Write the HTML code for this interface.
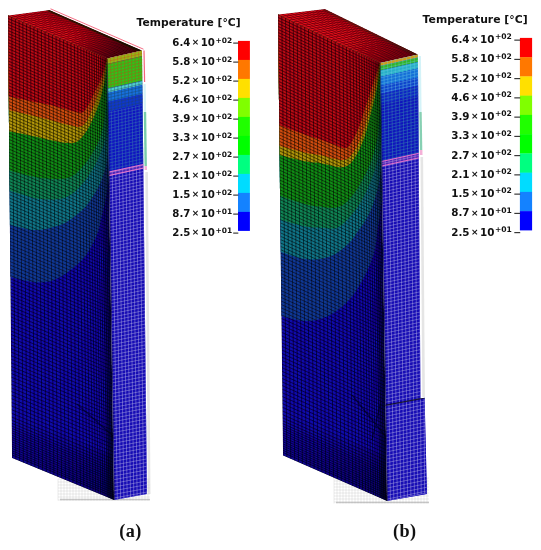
<!DOCTYPE html>
<html><head><meta charset="utf-8"><title>Temperature distribution</title>
<style>
html,body{margin:0;padding:0;background:#fff;}
body{width:541px;height:550px;overflow:hidden;}
svg{display:block;}
.lb{font-family:"DejaVu Sans","Liberation Sans",sans-serif;font-weight:bold;fill:#111;}
.tt{font-family:"DejaVu Sans","Liberation Sans",sans-serif;font-weight:bold;font-size:10.6px;fill:#111;}
.cap{font-family:"Liberation Serif",serif;font-weight:bold;font-size:18.2px;fill:#111;text-anchor:middle;letter-spacing:0.4px;}
</style></head><body>
<svg width="541" height="550" viewBox="0 0 541 550">
<rect width="541" height="550" fill="#fff"/>
<defs>
<filter id="soft" x="-2%" y="-2%" width="104%" height="104%"><feGaussianBlur stdDeviation="0.45"/></filter>
<linearGradient id="edgeShade" x1="0" y1="0" x2="1" y2="0"><stop offset="0" stop-color="#000" stop-opacity="0"/><stop offset="1" stop-color="#000" stop-opacity="0.6"/></linearGradient>
<linearGradient id="botShade" x1="0" y1="0" x2="0" y2="1"><stop offset="0" stop-color="#000" stop-opacity="0"/><stop offset="1" stop-color="#000" stop-opacity="0.3"/></linearGradient>
<linearGradient id="topShade" x1="0" y1="0" x2="1" y2="0.4"><stop offset="0" stop-color="#000" stop-opacity="0"/><stop offset="0.6" stop-color="#000" stop-opacity="0"/><stop offset="1" stop-color="#000" stop-opacity="0.45"/></linearGradient>
</defs>
<g filter="url(#soft)">
<path d="M58 479L58 500.5M61 479L61 500.5M64 479L64 500.5M67 479L67 500.5M70 479L70 500.5M73 479L73 500.5M76 479L76 500.5M79 479L79 500.5M82 479L82 500.5M85 479L85 500.5M88 479L88 500.5M91 479L91 500.5M94 479L94 500.5M97 479L97 500.5M100 479L100 500.5M103 479L103 500.5M106 479L106 500.5M109 479L109 500.5M112 479L112 500.5M115 479L115 500.5M118 479L118 500.5M121 479L121 500.5M124 479L124 500.5M127 479L127 500.5M130 479L130 500.5M133 479L133 500.5M136 479L136 500.5M139 479L139 500.5M142 479L142 500.5M145 479L145 500.5M148 479L148 500.5M58 479L150 479M58 482L150 482M58 485L150 485M58 488L150 488M58 491L150 491M58 494L150 494M58 497L150 497M58 500L150 500" stroke="#b0b0b0" stroke-opacity="0.4" stroke-width="0.6" fill="none"/>
<path d="M60 499.5L150 499.5" stroke="#a8a8a8" stroke-opacity="0.6" stroke-width="1.4" fill="none"/>
<defs><clipPath id="cla"><polygon points="8,15.5 107,58.5 114,500 12,458"/></clipPath>
<clipPath id="cra"><polygon points="107,58.5 142,50.5 147,494 114,500"/></clipPath>
<clipPath id="cta"><polygon points="8,15.5 49.5,10 142,50.5 107,58.5"/></clipPath></defs>
<g clip-path="url(#cla)">
<polygon points="8,15.5 107,58.5 114,500 12,458" fill="#0e08aa"/>
<polygon points="3,5.5 119,48.5 113,60 113,72.6 113.1,90.9 113.2,112.1 113.2,133.4 113.2,152 113,165 112.7,171.8 112.2,174.4 111.6,174.2 111,172.9 110.5,171.6 110,172 109.6,173.8 109.3,175.8 109,178 108.7,180.3 108.4,182.6 108,185 107.6,187.4 107.2,189.9 106.8,192.4 106.4,194.9 106,197.5 105.5,200 105,202.5 104.4,204.9 103.8,207.4 103.2,209.9 102.6,212.4 102,215 101.4,217.7 100.8,220.6 100.2,223.5 99.6,226.4 98.8,229.3 98,232 97,234.6 96,237.2 94.8,239.8 93.6,242.2 92.3,244.6 91,247 89.7,249.3 88.4,251.5 87,253.6 85.6,255.7 83.9,257.9 82,260 79.8,262.2 77.3,264.5 74.7,266.8 71.9,269 69.2,271.1 66.5,273 63.9,274.7 61.4,276.3 58.9,277.8 56.3,279 53.7,280.1 51,281 48.3,281.6 45.5,282.1 42.8,282.3 39.8,282.4 36.7,282.3 33.3,282 29.2,281.4 24.5,280.4 19.5,279.3 14.8,278.2 10.8,277.2 8,276.5 3,276.5" fill="#103896"/>
<polygon points="3,5.5 119,48.5 112,60 112,68.3 112.1,80.4 112.1,94.4 112.1,108.5 112.1,121 112,130 111.8,135.1 111.5,137.7 111.2,138.6 110.8,138.7 110.4,138.9 110,140 109.6,142 109.2,144.2 108.8,146.4 108.3,148.7 107.9,150.9 107.6,153 107.3,155 107.2,157 107,158.9 106.8,160.8 106.6,162.7 106.3,164.6 105.9,166.5 105.4,168.5 104.9,170.4 104.3,172.3 103.7,174.3 103,176.2 102.3,178.1 101.5,180 100.7,182 99.9,183.9 98.9,185.9 97.9,187.9 96.7,190 95.5,192.2 94.1,194.5 92.7,196.7 91.3,198.9 90,200.8 88.8,202.5 87.7,204 86.6,205.5 85.5,206.9 84,208.3 82.3,210 80.1,211.9 77.6,214 74.9,216.2 72,218.4 69.2,220.3 66.5,222 63.9,223.4 61.4,224.5 58.9,225.5 56.3,226.3 53.7,227 51,227.7 48.3,228.4 45.5,229 42.8,229.6 39.8,229.9 36.7,230.1 33.3,230 29.2,229.5 24.5,228.5 19.5,227.3 14.8,226.1 10.8,225.1 8,224.4 3,224.4" fill="#0e7488"/>
<polygon points="3,5.5 119,48.5 110,60 110,65.8 110.1,74.3 110.1,84.1 110.1,94.1 110.1,103.1 110,110 109.8,114.5 109.5,117.6 109.2,119.7 108.8,121.3 108.4,122.9 108,125 107.6,127.6 107.1,130.2 106.6,132.8 106.1,135.3 105.5,137.8 105,140 104.5,142 104,143.7 103.5,145.4 102.9,146.9 102.4,148.6 101.7,150.3 101,152.2 100.2,154.1 99.4,156.1 98.5,158.1 97.6,160 96.6,162 95.6,164 94.6,165.9 93.5,167.9 92.3,169.8 91.2,171.7 90,173.6 88.8,175.4 87.6,177.2 86.3,179 85,180.7 83.7,182.4 82.3,184 80.9,185.6 79.4,187.2 78,188.8 76.4,190.3 74.9,191.7 73.3,193 71.7,194.1 70.1,195.2 68.4,196.1 66.7,196.9 64.9,197.6 63,198.2 61,198.7 59,199 56.9,199.3 54.7,199.4 52.4,199.5 50,199.5 47.5,199.4 45,199.3 42.4,199.2 39.6,198.9 36.6,198.4 33.3,197.7 29.3,196.7 24.6,195.3 19.6,193.7 14.9,192.2 10.9,190.9 8,190 3,190" fill="#0e8454"/>
<polygon points="3,5.5 119,48.5 107,58.5 107,60.8 107,63.9 107.1,67.7 107.1,71.8 107.1,76 107,80 106.9,84 106.8,88.3 106.7,92.6 106.5,96.9 106.3,101.1 106,105 105.7,108.7 105.3,112.2 105,115.6 104.5,118.9 104,122 103.5,125 102.9,127.8 102.2,130.5 101.5,133.1 100.8,135.5 100,137.8 99.2,140 98.4,142 97.6,143.8 96.7,145.4 95.9,147 95,148.6 94,150.3 93,152 92,153.8 90.9,155.6 89.8,157.3 88.7,159 87.5,160.7 86.3,162.3 85,163.9 83.7,165.5 82.4,167 81.1,168.5 79.8,169.8 78.5,171.1 77.3,172.3 76,173.4 74.7,174.4 73.4,175.4 72,176.2 70.6,176.9 69.2,177.4 67.8,177.9 66.3,178.3 64.7,178.6 63,178.8 61.1,179 59.1,179.1 57,179.1 54.8,179.1 52.4,179 50,178.8 47.5,178.6 45,178.4 42.4,178.1 39.6,177.7 36.6,177.2 33.3,176.6 29.3,175.7 24.6,174.5 19.6,173.2 14.9,171.9 10.9,170.8 8,170 3,170" fill="#108c14"/>
<polygon points="3,5.5 119,48.5 107,58.5 106.9,59.5 106.8,60.9 106.7,62.5 106.6,64.3 106.5,66.2 106.3,68 106.1,69.8 106,71.7 105.8,73.7 105.6,75.8 105.3,77.9 105,80 104.6,82.3 104,84.7 103.4,87.1 102.8,89.6 102.2,91.8 101.7,93.9 101.3,95.7 100.9,97.2 100.5,98.7 100.1,100.1 99.7,101.5 99.2,103 98.6,104.7 98,106.4 97.3,108.2 96.7,109.9 96,111.6 95.3,113.3 94.7,114.9 94,116.4 93.4,117.9 92.8,119.3 92.1,120.8 91.4,122.3 90.6,123.8 89.8,125.4 89,126.9 88.1,128.4 87.2,129.9 86.2,131.4 85.2,132.9 84.2,134.3 83.1,135.8 82,137.2 80.9,138.4 79.8,139.5 78.8,140.4 77.8,141.2 76.8,141.8 75.8,142.3 74.6,142.7 73.3,143 71.8,143.2 70.2,143.2 68.6,143.1 66.8,143 64.9,142.7 63,142.5 61.1,142.2 59.1,141.9 57.1,141.5 55,141.1 52.6,140.6 50,140 47.1,139.4 43.9,138.6 40.6,137.9 37.1,137.1 33.5,136.3 30,135.5 26.2,134.7 22,133.8 17.8,133 13.8,132.2 10.4,131.5 8,131 3,131" fill="#b09408"/>
<polygon points="3,5.5 119,48.5 107,58.5 106.8,59.5 106.6,60.9 106.4,62.5 106.1,64.3 105.8,66.2 105.5,68 105.2,69.9 104.8,71.9 104.4,74 103.9,76.1 103.5,78.1 103,80 102.5,81.8 101.9,83.6 101.2,85.3 100.6,87 100,88.6 99.5,90 99.1,91.3 98.7,92.3 98.3,93.3 98,94.3 97.6,95.3 97.2,96.5 96.7,97.9 96.2,99.3 95.7,100.8 95.2,102.4 94.6,104 94,105.5 93.4,107 92.8,108.5 92.1,110 91.4,111.6 90.7,113.1 90,114.6 89.2,116.2 88.4,117.8 87.6,119.5 86.7,121 85.9,122.4 85,123.6 84.2,124.5 83.3,125.2 82.5,125.8 81.6,126.2 80.7,126.6 79.8,126.8 78.8,126.9 77.9,126.9 76.9,126.8 75.8,126.5 74.6,126.3 73.3,126 71.8,125.7 70.2,125.3 68.6,124.9 66.8,124.5 64.9,124 63,123.5 61.1,123 59.1,122.5 57.1,121.9 55,121.3 52.6,120.7 50,120 47.1,119.3 43.9,118.4 40.6,117.6 37.1,116.7 33.5,115.9 30,115 26.2,114.1 22,113.1 17.8,112.2 13.8,111.3 10.4,110.5 8,110 3,110" fill="#d04c0c"/>
<polygon points="3,5.5 119,48.5 107,58.5 106.7,59.5 106.4,60.9 106,62.5 105.5,64.3 105,66.2 104.5,68 103.9,69.9 103.3,71.9 102.6,74 101.9,76.1 101.2,78.1 100.5,80 99.8,81.7 99,83.4 98.3,84.9 97.5,86.4 96.8,87.9 96,89.5 95.2,91.1 94.4,92.7 93.7,94.4 92.9,96 92.1,97.5 91.4,99 90.7,100.4 90.1,101.8 89.5,103.1 88.9,104.4 88.2,105.6 87.5,106.8 86.7,108 85.9,109.1 85.1,110.2 84.2,111.2 83.3,112 82.3,112.6 81.4,112.9 80.5,113 79.6,112.9 78.6,112.7 77.4,112.3 75.9,112 74.1,111.6 72.1,111 69.9,110.4 67.5,109.8 65.2,109.1 63,108.5 60.9,107.9 58.9,107.4 56.9,106.8 54.9,106.2 52.6,105.6 50,105 47.1,104.4 43.9,103.7 40.6,103.1 37.1,102.4 33.5,101.7 30,101 26.2,100.2 22,99.3 17.8,98.4 13.8,97.5 10.4,96.8 8,96.3 3,96.3" fill="#b60812"/>
<path d="M8 15.5L12 458M11.7 17.1L15.8 459.6M15.4 18.7L19.6 461.1M19.1 20.3L23.4 462.7M22.8 21.9L27.2 464.3M26.5 23.5L31.1 465.8M30.2 25.1L34.9 467.4M33.9 26.7L38.7 469M37.6 28.4L42.5 470.6M41.3 30L46.3 472.1M45 31.6L50.1 473.7M48.7 33.2L53.9 475.3M52.4 34.8L57.7 476.8M56.1 36.4L61.6 478.4M59.8 38L65.4 480M63.5 39.6L69.2 481.5M67.2 41.2L73 483.1M70.9 42.8L76.8 484.7M74.4 44.3L80.4 486.2M77.7 45.8L83.8 487.6M80.8 47.1L87.1 488.9M83.8 48.4L90.1 490.2M86.6 49.6L93 491.3M89.2 50.8L95.7 492.5M91.7 51.9L98.2 493.5M94.1 52.9L100.7 494.5M96.3 53.8L103 495.5M98.4 54.8L105.1 496.3M100.4 55.6L107.1 497.2M102.2 56.4L109.1 498M104 57.2L110.9 498.7M105.7 57.9L112.6 499.4M107 58.5L114 500M8 15.5L107 58.5M8 18.5L107 61.5M8.1 21.5L107.1 64.5M8.1 24.5L107.1 67.5M8.1 27.5L107.2 70.5M8.1 30.6L107.2 73.5M8.2 33.6L107.3 76.6M8.2 36.6L107.3 79.6M8.2 39.7L107.4 82.6M8.2 42.7L107.4 85.6M8.3 45.8L107.5 88.7M8.3 48.8L107.5 91.7M8.3 51.9L107.6 94.8M8.4 54.9L107.6 97.8M8.4 58L107.7 100.9M8.4 61.1L107.7 104M8.4 64.1L107.8 107M8.5 67.2L107.8 110.1M8.5 70.3L107.9 113.2M8.5 73.4L107.9 116.3M8.6 76.5L108 119.4M8.6 79.6L108 122.5M8.6 82.7L108.1 125.6M8.6 85.8L108.1 128.7M8.7 89L108.2 131.8M8.7 92.1L108.2 134.9M8.7 95.2L108.3 138M8.7 98.3L108.3 141.2M8.8 101.5L108.4 144.3M8.8 104.6L108.4 147.4M8.8 107.8L108.5 150.6M8.9 110.9L108.5 153.7M8.9 114.1L108.6 156.9M8.9 117.2L108.6 160M8.9 120.4L108.7 163.2M9 123.6L108.7 166.3M9 126.8L108.8 169.5M9 130L108.8 172.7M9.1 133.1L108.9 175.9M9.1 136.3L108.9 179.1M9.1 139.5L109 182.3M9.2 142.8L109 185.5M9.2 146L109.1 188.7M9.2 149.2L109.1 191.9M9.2 152.4L109.2 195.1M9.3 155.6L109.2 198.3M9.3 158.9L109.3 201.5M9.3 162.1L109.3 204.8M9.4 165.3L109.4 208M9.4 168.6L109.4 211.2M9.4 171.8L109.5 214.5M9.4 175.1L109.5 217.7M9.5 178.4L109.6 221M9.5 181.6L109.6 224.3M9.5 184.9L109.7 227.5M9.6 188.2L109.7 230.8M9.6 191.5L109.8 234.1M9.6 194.8L109.8 237.4M9.7 198.1L109.9 240.6M9.7 201.4L109.9 243.9M9.7 204.7L110 247.2M9.7 208L110 250.5M9.8 211.3L110.1 253.9M9.8 214.6L110.1 257.2M9.8 218L110.2 260.5M9.9 221.3L110.3 263.8M9.9 224.6L110.3 267.2M9.9 228L110.4 270.5M10 231.3L110.4 273.8M10 234.7L110.5 277.2M10 238L110.5 280.5M10 241.4L110.6 283.9M10.1 244.8L110.6 287.3M10.1 248.2L110.7 290.6M10.1 251.5L110.7 294M10.2 254.9L110.8 297.4M10.2 258.3L110.8 300.8M10.2 261.7L110.9 304.2M10.3 265.1L110.9 307.6M10.3 268.5L111 311M10.3 272L111.1 314.4M10.3 275.4L111.1 317.8M10.4 278.8L111.2 321.2M10.4 282.2L111.2 324.6M10.4 285.7L111.3 328.1M10.5 289.1L111.3 331.5M10.5 292.6L111.4 335M10.5 296L111.4 338.4M10.6 299.5L111.5 341.9M10.6 303L111.5 345.3M10.6 306.4L111.6 348.8M10.7 309.9L111.7 352.2M10.7 313.4L111.7 355.7M10.7 316.9L111.8 359.2M10.8 320.4L111.8 362.7M10.8 323.9L111.9 366.2M10.8 327.4L111.9 369.7M10.9 330.9L112 373.2M10.9 334.4L112 376.7M10.9 338L112.1 380.2M10.9 341.5L112.2 383.7M11 345L112.2 387.3M11 348.6L112.3 390.8M11 352.1L112.3 394.3M11.1 355.7L112.4 397.9M11.1 359.2L112.4 401.4M11.1 362.8L112.5 405M11.2 366.4L112.6 408.6M11.2 369.9L112.6 412.1M11.2 373.5L112.7 415.7M11.3 377.1L112.7 419.3M11.3 380.7L112.8 422.9M11.3 384.3L112.8 426.5M11.4 387.9L112.9 430.1M11.4 391.5L112.9 433.7M11.4 395.1L113 437.3M11.5 398.8L113.1 440.9M11.5 402.4L113.1 444.5M11.5 406L113.2 448.1M11.6 409.7L113.2 451.8M11.6 413.3L113.3 455.4M11.6 417L113.4 459.1M11.7 420.3L113.4 462.4M11.7 423.3L113.5 465.4M11.7 426L113.5 468M11.7 428.4L113.5 470.4M11.8 430.7L113.6 472.7M11.8 432.9L113.6 475M11.8 435.2L113.6 477.3M11.8 437.5L113.7 479.5M11.8 439.7L113.7 481.7M11.9 441.9L113.7 484M11.9 444.1L113.8 486.2M11.9 446.3L113.8 488.3M11.9 448.5L113.8 490.5M11.9 450.7L113.9 492.7M12 452.8L113.9 494.8M12 454.9L114 496.9M12 458L114 500" stroke="#000" stroke-opacity="0.6" stroke-width="0.9" fill="none"/>
<path d="M77 404L113 436" stroke="#000" stroke-opacity="0.45" stroke-width="1.2" fill="none"/>
<polygon points="100.1,55.5 107,58.5 114,500 106.9,497.1" fill="url(#edgeShade)"/>
<polygon points="11.6,413.8 113.3,455.9 114,500 12,458" fill="url(#botShade)"/>
</g>
<g clip-path="url(#cta)">
<polygon points="8,15.5 49.5,10 142,50.5 107,58.5" fill="#ea0a1a"/>
<path d="M8 15.5L107 58.5M11.7 15L110.2 57.8M15.5 14.5L113.3 57.1M19.2 14L116.5 56.3M22.8 13.5L119.4 55.7M26.1 13.1L122.3 55M29.2 12.7L124.9 54.4M32.1 12.3L127.4 53.8M34.9 11.9L129.7 53.3M37.5 11.6L131.8 52.8M39.9 11.3L133.9 52.4M42.1 11L135.8 51.9M44.3 10.7L137.6 51.5M46.2 10.4L139.3 51.1M48.1 10.2L140.8 50.8M49.5 10L142 50.5M8 15.5L49.5 10M11.7 17.1L53 11.5M15.4 18.7L56.4 13M19.1 20.3L59.9 14.5M22.8 21.9L63.3 16.1M26.5 23.5L66.8 17.6M30.2 25.1L70.2 19.1M33.9 26.7L73.7 20.6M37.6 28.4L77.2 22.1M41.3 30L80.6 23.6M45 31.6L84.1 25.1M48.7 33.2L87.5 26.7M52.4 34.8L91 28.2M56.1 36.4L94.4 29.7M59.8 38L97.9 31.2M63.5 39.6L101.4 32.7M67.2 41.2L104.8 34.2M70.9 42.8L108.3 35.7M74.4 44.3L111.5 37.2M77.7 45.8L114.6 38.5M80.8 47.1L117.6 39.8M83.8 48.4L120.3 41M86.6 49.6L122.9 42.1M89.2 50.8L125.4 43.2M91.7 51.9L127.7 44.2M94.1 52.9L129.9 45.2M96.3 53.8L132 46.1M98.4 54.8L133.9 47M100.4 55.6L135.8 47.8M102.2 56.4L137.5 48.5M104 57.2L139.2 49.3M105.7 57.9L140.7 49.9M107 58.5L142 50.5" stroke="#000" stroke-opacity="0.42" stroke-width="0.85" fill="none"/>
<polygon points="8,15.5 49.5,10 142,50.5 107,58.5" fill="url(#topShade)" fill-opacity="1.0"/>
<polygon points="49.5,10 142,50.5 138.5,51.3 46.2,10.4" fill="#0c1800" fill-opacity="0.7"/>
</g>
<g clip-path="url(#cra)">
<polygon points="107,58.5 142,50.5 147,494 114,500" fill="#1c14c8"/>
<polygon points="106.9,50 152.4,39.5 152.6,53.6 107.1,64" fill="#94b418"/>
<polygon points="107.1,64 152.6,53.6 152.8,78.4 107.5,88.6" fill="#30c01a"/>
<polygon points="107.5,88.6 152.8,78.4 152.8,82.8 107.5,93" fill="#50d0d0"/>
<polygon points="107.5,93 152.8,82.8 152.9,91.9 107.7,102" fill="#1470dc"/>
<polygon points="107.7,102 152.9,91.9 153,101.9 107.8,112" fill="#1038cc"/>
<polygon points="107.8,112 153,101.9 153.6,162.3 108.8,172" fill="#1014c0"/>
<polygon points="108.8,172 153.6,162.3 157.1,512.3 114.3,520" fill="#1408b4"/>
<path d="M106.9 50L107.5 88.6M110.4 49.2L111 87.8M113.9 48.4L114.4 87M117.4 47.6L117.9 86.2M120.9 46.8L121.4 85.5M124.4 46L124.9 84.7M127.9 45.2L128.4 83.9M131.4 44.4L131.9 83.1M134.9 43.6L135.4 82.3M138.4 42.8L138.9 81.5M141.9 42L142.3 80.7M145.4 41.2L145.8 79.9M148.9 40.4L149.3 79.2M152.4 39.5L152.8 78.4M107 58.5L152.5 48.1M107 61.5L152.5 51.1M107.1 64.5L152.6 54.1M107.1 67.5L152.6 57.2M107.2 70.5L152.6 60.2M107.2 73.5L152.6 63.2M107.3 76.6L152.7 66.3M107.3 79.6L152.7 69.3M107.4 82.6L152.7 72.3M107.4 85.6L152.8 75.4" stroke="#e02c10" stroke-opacity="0.5" stroke-width="0.6" fill="none"/>
<path d="M107.5 88.6L107.8 112M111 87.8L111.3 111.2M114.4 87L114.8 110.4M117.9 86.2L118.3 109.7M121.4 85.5L121.8 108.9M124.9 84.7L125.2 108.1M128.4 83.9L128.7 107.3M131.9 83.1L132.2 106.6M135.4 82.3L135.7 105.8M138.9 81.5L139.1 105M142.3 80.7L142.6 104.2M145.8 79.9L146.1 103.5M149.3 79.2L149.6 102.7M152.8 78.4L153 101.9M107.5 88.7L152.8 78.5M107.5 91.7L152.8 81.5M107.6 94.8L152.9 84.6M107.6 97.8L152.9 87.7M107.7 100.9L152.9 90.7M107.7 104L153 93.8M107.8 107L153 96.9M107.8 110.1L153 100" stroke="#204060" stroke-opacity="0.5" stroke-width="0.8" fill="none"/>
<path d="M107.8 112L108.8 172M111.3 111.2L112.2 171.3M114.8 110.4L115.7 170.5M118.3 109.7L119.1 169.8M121.8 108.9L122.6 169M125.2 108.1L126 168.3M128.7 107.3L129.5 167.5M132.2 106.6L132.9 166.8M135.7 105.8L136.4 166M139.1 105L139.8 165.3M142.6 104.2L143.3 164.5M146.1 103.5L146.7 163.8M149.6 102.7L150.2 163M153 101.9L153.6 162.3M107.9 113.2L153 103.1M107.9 116.3L153.1 106.2M108 119.3L153.1 109.3M108 122.4L153.1 112.4M108.1 125.5L153.2 115.5M108.1 128.6L153.2 118.6M108.2 131.7L153.2 121.8M108.2 134.9L153.3 124.9M108.3 138L153.3 128M108.3 141.1L153.3 131.2M108.4 144.2L153.4 134.3M108.4 147.4L153.4 137.5M108.5 150.5L153.4 140.6M108.5 153.6L153.4 143.8M108.6 156.8L153.5 147M108.6 159.9L153.5 150.1M108.7 163.1L153.5 153.3M108.7 166.3L153.6 156.5M108.8 169.4L153.6 159.7" stroke="#4088b0" stroke-opacity="0.55" stroke-width="0.75" fill="none"/>
<path d="M108.8 172L114 500M112.2 171.3L117.3 499.4M115.7 170.5L120.6 498.8M119.1 169.8L123.9 498.2M122.6 169L127.2 497.6M126 168.3L130.5 497M129.5 167.5L133.8 496.4M132.9 166.8L137.1 495.8M136.4 166L140.4 495.2M139.8 165.3L143.7 494.6M143.3 164.5L147 494M146.7 163.8L150.3 493.4M150.2 163L153.6 492.8M153.6 162.3L156.9 492.2M108.8 172.6L153.6 162.9M108.9 175.8L153.7 166.1M108.9 179L153.7 169.3M109 182.1L153.7 172.5M109 185.3L153.8 175.7M109.1 188.5L153.8 178.9M109.1 191.7L153.8 182.1M109.2 194.9L153.9 185.3M109.2 198.2L153.9 188.6M109.3 201.4L153.9 191.8M109.3 204.6L154 195.1M109.4 207.8L154 198.3M109.4 211.1L154 201.6M109.5 214.3L154.1 204.8M109.5 217.5L154.1 208.1M109.6 220.8L154.1 211.3M109.6 224L154.1 214.6M109.7 227.3L154.2 217.9M109.7 230.6L154.2 221.2M109.8 233.8L154.2 224.5M109.8 237.1L154.3 227.8M109.9 240.4L154.3 231.1M109.9 243.7L154.3 234.4M110 247L154.4 237.7M110 250.3L154.4 241M110.1 253.6L154.4 244.3M110.1 256.9L154.5 247.6M110.2 260.2L154.5 251M110.3 263.5L154.5 254.3M110.3 266.8L154.6 257.6M110.4 270.1L154.6 261M110.4 273.5L154.6 264.3M110.5 276.8L154.7 267.7M110.5 280.1L154.7 271.1M110.6 283.5L154.7 274.4M110.6 286.8L154.8 277.8M110.7 290.2L154.8 281.2M110.7 293.6L154.8 284.6M110.8 296.9L154.9 287.9M110.8 300.3L154.9 291.3M110.9 303.7L154.9 294.7M110.9 307.1L155 298.1M111 310.5L155 301.6M111 313.9L155 305M111.1 317.3L155.1 308.4M111.2 320.7L155.1 311.8M111.2 324.1L155.1 315.2M111.3 327.5L155.2 318.7M111.3 330.9L155.2 322.1M111.4 334.3L155.2 325.6M111.4 337.8L155.3 329M111.5 341.2L155.3 332.5M111.5 344.7L155.4 336M111.6 348.1L155.4 339.4M111.6 351.6L155.4 342.9M111.7 355L155.5 346.4M111.8 358.5L155.5 349.9M111.8 362L155.5 353.4M111.9 365.4L155.6 356.9M111.9 368.9L155.6 360.4M112 372.4L155.6 363.9M112 375.9L155.7 367.4M112.1 379.4L155.7 370.9M112.1 382.9L155.7 374.4M112.2 386.4L155.8 378M112.3 389.9L155.8 381.5M112.3 393.5L155.8 385M112.4 397L155.9 388.6M112.4 400.5L155.9 392.1M112.5 404.1L155.9 395.7M112.5 407.6L156 399.3M112.6 411.2L156 402.8M112.6 414.7L156 406.4M112.7 418.3L156.1 410M112.8 421.8L156.1 413.6M112.8 425.4L156.2 417.2M112.9 429L156.2 420.8M112.9 432.6L156.2 424.4M113 436.2L156.3 428M113 439.8L156.3 431.6M113.1 443.4L156.3 435.2M113.2 447L156.4 438.8M113.2 450.6L156.4 442.5M113.3 454.2L156.4 446.1M113.3 457.8L156.5 449.8M113.4 461.4L156.5 453.4M113.4 465.1L156.6 457.1M113.5 468.7L156.6 460.7M113.6 472.4L156.6 464.4M113.6 476L156.7 468.1M113.7 479.7L156.7 471.8M113.7 483.3L156.7 475.4M113.8 487L156.8 479.1M113.9 490.7L156.8 482.8M113.9 494.4L156.8 486.5M114 498L156.9 490.2M114 500L156.9 492.2" stroke="#c8c8ec" stroke-opacity="0.62" stroke-width="0.65" fill="none"/>
<polygon points="108.8,171.5 153.6,161.8 153.7,166.3 108.9,176" fill="#d868c8" fill-opacity="0.3"/>
<path d="M108.8 172L153.6 162.3M108.9 175.5L153.7 165.8" stroke="#f478cc" stroke-width="1" stroke-opacity="0.9" fill="none"/>
<path d="M107 58.5L114 500" stroke="#000" stroke-opacity="0.55" stroke-width="1.6" fill="none"/>

</g>
<path d="M144 50.5L144.6 82" stroke="#f03050" stroke-width="1.2" stroke-opacity="0.75" fill="none"/>
<path d="M144.6 84L145 112" stroke="#b0e8f0" stroke-width="2.2" stroke-opacity="0.5" fill="none"/>
<path d="M145 112L145.7 166" stroke="#40b888" stroke-width="2.4" stroke-opacity="0.7" fill="none"/>
<path d="M145.7 166L145.8 170" stroke="#f090c8" stroke-width="2.4" stroke-opacity="0.7" fill="none"/>
<path d="M146.6 172L149.2 494" stroke="#d4d4d4" stroke-width="2.6" stroke-opacity="0.6" fill="none"/>
<path d="M50.5 8.8L143.5 49.2" stroke="#f03050" stroke-width="1" stroke-opacity="0.7" fill="none"/>
<path d="M334 478L334 503.5M337 478L337 503.5M340 478L340 503.5M343 478L343 503.5M346 478L346 503.5M349 478L349 503.5M352 478L352 503.5M355 478L355 503.5M358 478L358 503.5M361 478L361 503.5M364 478L364 503.5M367 478L367 503.5M370 478L370 503.5M373 478L373 503.5M376 478L376 503.5M379 478L379 503.5M382 478L382 503.5M385 478L385 503.5M388 478L388 503.5M391 478L391 503.5M394 478L394 503.5M397 478L397 503.5M400 478L400 503.5M403 478L403 503.5M406 478L406 503.5M409 478L409 503.5M412 478L412 503.5M415 478L415 503.5M418 478L418 503.5M421 478L421 503.5M424 478L424 503.5M427 478L427 503.5M334 478L429 478M334 481L429 481M334 484L429 484M334 487L429 487M334 490L429 490M334 493L429 493M334 496L429 496M334 499L429 499M334 502L429 502" stroke="#b0b0b0" stroke-opacity="0.4" stroke-width="0.6" fill="none"/>
<path d="M336 502.5L429 502.5" stroke="#a8a8a8" stroke-opacity="0.6" stroke-width="1.4" fill="none"/>
<defs><clipPath id="clb"><polygon points="278,14.5 380,63 387,501 283,455.5"/></clipPath>
<clipPath id="crb"><polygon points="380,63 418,54.5 420.5,398.5 424.6,397.8 427,494 387,501"/></clipPath>
<clipPath id="ctb"><polygon points="278,14.5 325,9 418,54.5 380,63"/></clipPath></defs>
<g clip-path="url(#clb)">
<polygon points="278,14.5 380,63 387,501 283,455.5" fill="#0e08aa"/>
<polygon points="273,4.5 392,53 388,60 388,75.6 388.1,98.3 388.2,124.7 388.3,151.1 388.2,174.1 388,190 387.6,198 386.9,200.7 386.2,200 385.4,197.6 384.7,195.3 384,195 383.4,196.4 382.9,197.9 382.3,199.6 381.9,201.3 381.4,203.2 381,205 380.7,206.9 380.4,208.8 380.2,210.8 380,212.9 379.8,214.9 379.5,217 379.2,219 378.9,220.9 378.6,222.9 378.3,225 377.9,227.3 377.5,230 377.1,233.1 376.7,236.7 376.3,240.4 375.8,244.3 375.2,248.2 374.3,252 373.2,255.7 371.9,259.4 370.5,263.2 368.9,266.9 367.2,270.7 365.4,274.4 363.5,278.2 361.3,282.1 359.1,285.9 356.8,289.7 354.4,293.3 352,296.5 349.5,299.4 347,302.1 344.4,304.6 341.7,307 339.1,309.1 336.5,311 333.9,312.7 331.4,314.3 328.9,315.6 326.3,316.8 323.7,317.8 321,318.7 318.3,319.5 315.5,320.2 312.8,320.7 309.8,321 306.7,321.1 303.3,321 299.2,320.5 294.5,319.5 289.5,318.3 284.8,317.1 280.8,316.1 278,315.4 273,315.4" fill="#103896"/>
<polygon points="273,4.5 392,53 386,60 386,70.7 386.1,86.3 386.2,104.4 386.2,122.6 386.2,138.6 386,150 385.7,156.3 385.2,159.1 384.7,159.8 384.1,159.4 383.5,159.1 383,160 382.5,162 382.1,164.2 381.7,166.5 381.2,168.8 380.9,171 380.5,173 380.2,174.8 380,176.5 379.7,178.2 379.5,179.8 379.3,181.5 378.9,183.3 378.5,185.3 377.9,187.5 377.4,189.7 376.8,191.9 376.2,194.1 375.6,196.2 375,198.2 374.4,200.1 373.8,202.1 373.2,204 372.5,205.9 371.7,207.9 370.8,210 369.8,212.2 368.7,214.5 367.5,216.7 366.4,218.9 365.3,220.8 364.2,222.5 363.2,224 362.2,225.5 361.1,226.9 360,228.3 358.8,230 357.5,231.8 356.2,233.8 354.8,235.9 353.4,237.9 351.8,240 350,242 348,244 345.9,246 343.7,248.1 341.3,250 338.9,251.8 336.5,253.3 334.1,254.6 331.6,255.8 329,256.8 326.4,257.6 323.7,258.3 321,258.8 318.3,259.2 315.5,259.5 312.8,259.6 309.8,259.6 306.7,259.3 303.3,258.8 299.2,257.9 294.5,256.5 289.5,254.9 284.8,253.3 280.8,251.9 278,251 273,251" fill="#0e7488"/>
<polygon points="273,4.5 392,53 384,60 384,68.3 384.1,80.2 384.2,94.1 384.2,108.1 384.2,120.7 384,130 383.7,135.7 383.2,139.1 382.7,140.9 382.1,142 381.6,143.1 381,145 380.5,147.5 379.9,150.1 379.3,152.7 378.7,155.3 378.2,157.7 377.6,160 377.1,162.1 376.5,164.2 376,166.1 375.4,167.9 374.9,169.8 374.3,171.6 373.7,173.4 373.1,175.1 372.5,176.8 371.9,178.5 371.2,180.2 370.5,182 369.7,183.9 368.9,185.8 368.1,187.7 367.2,189.7 366.3,191.6 365.3,193.6 364.3,195.6 363.3,197.5 362.2,199.5 361.1,201.5 360,203.4 358.8,205.3 357.6,207.1 356.3,208.9 355.1,210.6 353.7,212.3 352.4,214 351,215.6 349.6,217.2 348.1,218.9 346.6,220.5 345,222.1 343.5,223.5 342,224.7 340.5,225.7 339.1,226.6 337.8,227.3 336.3,227.9 334.7,228.3 333,228.6 331,228.7 328.9,228.6 326.6,228.3 324.3,228 322.1,227.7 320,227.5 318.1,227.4 316.2,227.4 314.5,227.4 312.7,227.3 310.8,227.2 308.8,227 306.7,226.7 304.5,226.3 302.3,225.8 299.9,225.2 297.5,224.6 295,224 292.2,223.2 288.9,222.3 285.6,221.3 282.5,220.4 279.9,219.6 278,219 273,219" fill="#0e8454"/>
<polygon points="273,4.5 392,53 380,63 380.1,64.8 380.3,67.3 380.5,70.2 380.7,73.5 380.9,76.8 381,80 381,83.1 381,86.3 380.9,89.5 380.8,92.9 380.7,96.3 380.5,100 380.3,103.9 380.1,108.1 379.9,112.5 379.6,116.9 379.3,121.1 379,125 378.6,128.7 378.2,132.2 377.7,135.6 377.2,138.9 376.6,142 376,145 375.4,147.9 374.6,150.6 373.9,153.2 373.1,155.6 372.4,157.9 371.7,160 371.1,161.8 370.4,163.4 369.9,164.8 369.3,166.1 368.6,167.5 367.9,169 367.1,170.7 366.3,172.4 365.4,174.2 364.5,176 363.6,177.7 362.7,179.4 361.9,181 361.1,182.5 360.3,184 359.4,185.4 358.5,186.9 357.5,188.5 356.4,190.2 355.1,192 353.8,193.8 352.5,195.6 351.1,197.3 349.8,198.8 348.5,200.1 347.3,201.4 346,202.5 344.7,203.6 343.4,204.5 342,205.3 340.6,206 339.2,206.6 337.8,207.1 336.3,207.5 334.7,207.7 333,207.9 331,207.9 328.9,207.8 326.6,207.5 324.3,207.2 322.1,206.9 320,206.6 318.1,206.4 316.2,206.2 314.5,206 312.7,205.7 310.8,205.4 308.8,205 306.7,204.5 304.5,203.9 302.3,203.3 299.9,202.6 297.5,201.8 295,201 292.2,200 288.9,198.9 285.6,197.8 282.5,196.6 279.9,195.7 278,195 273,195" fill="#108c14"/>
<polygon points="273,4.5 392,53 380,63 379.9,64.6 379.7,66.8 379.4,69.4 379.2,72.3 378.9,75.2 378.5,78 378.1,80.7 377.7,83.5 377.2,86.3 376.7,89.2 376.1,92.1 375.5,95 374.8,98 374,101.1 373.2,104.2 372.4,107.2 371.7,110.1 371,112.6 370.5,114.7 370,116.6 369.7,118.2 369.3,119.7 368.9,121.3 368.5,123 368,124.9 367.5,126.8 367,128.8 366.4,130.8 365.9,132.7 365.3,134.6 364.7,136.4 364.1,138.2 363.5,139.9 362.8,141.6 362.1,143.3 361.4,145 360.6,146.7 359.8,148.5 359,150.3 358.1,152 357.2,153.7 356.2,155.3 355.2,156.9 354.2,158.5 353.2,160.1 352.1,161.6 351,162.9 349.8,164 348.6,164.9 347.3,165.7 346.1,166.3 344.7,166.7 343.4,167.1 342,167.3 340.6,167.4 339.2,167.3 337.8,167 336.3,166.7 334.7,166.4 333,166 331,165.6 328.9,165.1 326.6,164.5 324.3,163.9 322.1,163.4 320,163 318.1,162.7 316.2,162.6 314.5,162.5 312.7,162.4 310.8,162.3 308.8,162 306.7,161.6 304.5,161.2 302.3,160.7 299.9,160.2 297.5,159.6 295,159 292.2,158.3 288.9,157.4 285.6,156.6 282.5,155.7 279.9,155 278,154.5 273,154.5" fill="#b09408"/>
<polygon points="273,4.5 392,53 380,63 379.7,64.6 379.4,66.9 378.9,69.6 378.5,72.5 378,75.4 377.5,78 377,80.4 376.5,82.7 376,84.9 375.5,87.2 374.9,89.6 374.3,92 373.6,94.6 372.8,97.4 372,100.3 371.2,103.1 370.5,105.7 369.8,108 369.3,110 368.8,111.7 368.4,113.2 368,114.6 367.6,116.1 367.2,117.8 366.7,119.6 366.2,121.6 365.7,123.6 365.1,125.6 364.6,127.5 364,129.4 363.4,131.2 362.8,133 362.1,134.7 361.4,136.4 360.7,138.1 360,139.8 359.2,141.5 358.5,143.3 357.7,145 356.8,146.8 355.9,148.4 355,150 354,151.5 352.9,153.1 351.8,154.5 350.7,155.9 349.6,157 348.5,158 347.4,158.7 346.4,159.2 345.4,159.6 344.4,159.8 343.2,159.9 342,160 340.7,160 339.3,159.8 337.9,159.6 336.4,159.3 334.8,158.9 333,158.5 331,158 328.9,157.4 326.6,156.8 324.3,156.1 322.1,155.5 320,155 318.1,154.7 316.2,154.4 314.5,154.2 312.7,154.1 310.8,153.8 308.8,153.5 306.7,153 304.5,152.5 302.3,151.9 299.9,151.3 297.5,150.7 295,150 292.2,149.3 288.9,148.4 285.6,147.5 282.5,146.7 279.9,146 278,145.5 273,145.5" fill="#d04c0c"/>
<polygon points="273,4.5 392,53 380,63 379.5,64.6 378.7,66.8 377.8,69.4 376.9,72.3 375.9,75.2 375,78 374.1,80.7 373.2,83.6 372.2,86.5 371.3,89.4 370.4,92.3 369.5,95 368.6,97.7 367.8,100.3 366.9,102.9 366.1,105.4 365.3,107.8 364.6,110 364,112 363.4,113.8 362.9,115.4 362.5,117 362,118.6 361.4,120.3 360.8,122 360.2,123.8 359.6,125.5 358.9,127.2 358.2,129 357.5,130.7 356.7,132.5 355.9,134.3 355,136.1 354.1,137.8 353.2,139.5 352.3,141 351.4,142.4 350.5,143.8 349.6,145.1 348.7,146.2 347.9,147.1 347,147.8 346.2,148.2 345.5,148.3 344.7,148.3 344,148.1 343.1,147.8 342,147.5 340.8,147.2 339.4,146.7 338,146.2 336.4,145.6 334.8,145 333,144.3 331,143.6 328.9,142.8 326.6,141.9 324.3,141.1 322.1,140.2 320,139.5 318.1,138.9 316.2,138.3 314.5,137.8 312.7,137.2 310.8,136.7 308.8,136 306.7,135.3 304.5,134.5 302.3,133.7 299.9,132.8 297.5,131.9 295,131 292.2,129.9 288.9,128.7 285.6,127.4 282.5,126.2 279.9,125.2 278,124.5 273,124.5" fill="#b60812"/>
<path d="M278 14.5L283 455.5M281.8 16.3L286.9 457.2M285.6 18.1L290.8 458.9M289.4 19.9L294.7 460.6M293.2 21.8L298.5 462.3M297.1 23.6L302.4 464M300.9 25.4L306.3 465.7M304.7 27.2L310.2 467.4M308.5 29L314.1 469.1M312.3 30.8L318 470.8M316.1 32.6L321.9 472.5M319.9 34.4L325.8 474.2M323.7 36.3L329.6 475.9M327.6 38.1L333.5 477.6M331.4 39.9L337.4 479.3M335.2 41.7L341.3 481M339 43.5L345.2 482.7M342.8 45.3L349.1 484.4M346.4 47L352.8 486M349.8 48.7L356.2 487.5M353.1 50.2L359.5 489M356.1 51.6L362.6 490.3M359 53L365.6 491.6M361.7 54.3L368.3 492.8M364.2 55.5L370.9 494M366.7 56.7L373.4 495.1M369 57.7L375.7 496.1M371.1 58.8L377.9 497M373.1 59.7L380 497.9M375.1 60.7L382 498.8M376.9 61.5L383.8 499.6M378.6 62.3L385.6 500.4M380 63L387 501M278 14.5L380 63M278 17.5L380 66M278.1 20.5L380.1 69M278.1 23.5L380.1 71.9M278.1 26.5L380.2 74.9M278.2 29.5L380.2 77.9M278.2 32.5L380.3 80.9M278.2 35.6L380.3 83.9M278.3 38.6L380.4 86.9M278.3 41.6L380.4 89.9M278.3 44.7L380.5 92.9M278.4 47.7L380.5 96M278.4 50.7L380.6 99M278.4 53.8L380.6 102M278.5 56.9L380.7 105.1M278.5 59.9L380.7 108.1M278.5 63L380.8 111.2M278.6 66.1L380.8 114.2M278.6 69.1L380.9 117.3M278.7 72.2L380.9 120.3M278.7 75.3L381 123.4M278.7 78.4L381 126.5M278.8 81.5L381.1 129.5M278.8 84.6L381.1 132.6M278.8 87.7L381.2 135.7M278.9 90.8L381.2 138.8M278.9 93.9L381.3 141.9M278.9 97.1L381.3 145M279 100.2L381.4 148.1M279 103.3L381.4 151.2M279 106.5L381.5 154.3M279.1 109.6L381.5 157.5M279.1 112.7L381.6 160.6M279.1 115.9L381.6 163.7M279.2 119.1L381.7 166.9M279.2 122.2L381.7 170M279.3 125.4L381.8 173.1M279.3 128.6L381.8 176.3M279.3 131.7L381.9 179.5M279.4 134.9L381.9 182.6M279.4 138.1L382 185.8M279.4 141.3L382 189M279.5 144.5L382.1 192.1M279.5 147.7L382.1 195.3M279.5 150.9L382.2 198.5M279.6 154.2L382.2 201.7M279.6 157.4L382.3 204.9M279.7 160.6L382.3 208.1M279.7 163.8L382.4 211.3M279.7 167.1L382.4 214.5M279.8 170.3L382.5 217.8M279.8 173.6L382.5 221M279.8 176.8L382.6 224.2M279.9 180.1L382.6 227.4M279.9 183.3L382.7 230.7M280 186.6L382.7 233.9M280 189.9L382.8 237.2M280 193.2L382.8 240.4M280.1 196.4L382.9 243.7M280.1 199.7L382.9 247M280.1 203L383 250.2M280.2 206.3L383 253.5M280.2 209.6L383.1 256.8M280.2 212.9L383.1 260.1M280.3 216.3L383.2 263.4M280.3 219.6L383.3 266.7M280.4 222.9L383.3 270M280.4 226.3L383.4 273.3M280.4 229.6L383.4 276.6M280.5 232.9L383.5 279.9M280.5 236.3L383.5 283.3M280.6 239.6L383.6 286.6M280.6 243L383.6 289.9M280.6 246.4L383.7 293.3M280.7 249.7L383.7 296.6M280.7 253.1L383.8 300M280.7 256.5L383.8 303.4M280.8 259.9L383.9 306.7M280.8 263.3L383.9 310.1M280.9 266.7L384 313.5M280.9 270.1L384.1 316.9M280.9 273.5L384.1 320.2M281 276.9L384.2 323.6M281 280.3L384.2 327M281.1 283.8L384.3 330.4M281.1 287.2L384.3 333.8M281.1 290.6L384.4 337.3M281.2 294.1L384.4 340.7M281.2 297.5L384.5 344.1M281.2 301L384.5 347.5M281.3 304.5L384.6 351M281.3 307.9L384.7 354.4M281.4 311.4L384.7 357.9M281.4 314.9L384.8 361.3M281.4 318.4L384.8 364.8M281.5 321.8L384.9 368.3M281.5 325.3L384.9 371.7M281.6 328.8L385 375.2M281.6 332.3L385 378.7M281.6 335.9L385.1 382.2M281.7 339.4L385.2 385.7M281.7 342.9L385.2 389.2M281.8 346.4L385.3 392.7M281.8 350L385.3 396.2M281.8 353.5L385.4 399.7M281.9 357.1L385.4 403.2M281.9 360.6L385.5 406.8M282 364.2L385.6 410.3M282 367.7L385.6 413.8M282 371.3L385.7 417.4M282.1 374.9L385.7 420.9M282.1 378.5L385.8 424.5M282.2 382L385.8 428M282.2 385.6L385.9 431.6M282.2 389.2L385.9 435.2M282.3 392.8L386 438.8M282.3 396.5L386.1 442.4M282.4 400.1L386.1 446M282.4 403.7L386.2 449.6M282.5 407.3L386.2 453.2M282.5 411L386.3 456.8M282.5 414.6L386.4 460.4M282.6 417.9L386.4 463.7M282.6 420.9L386.5 466.6M282.6 423.6L386.5 469.3M282.7 426L386.5 471.7M282.7 428.3L386.6 473.9M282.7 430.5L386.6 476.2M282.7 432.8L386.6 478.4M282.8 435L386.7 480.7M282.8 437.3L386.7 482.9M282.8 439.5L386.7 485.1M282.8 441.7L386.8 487.3M282.9 443.9L386.8 489.4M282.9 446L386.8 491.6M282.9 448.2L386.9 493.7M282.9 450.3L386.9 495.9M283 452.5L387 498M283 455.5L387 501" stroke="#000" stroke-opacity="0.6" stroke-width="0.9" fill="none"/>
<path d="M352 395L386 437M380 405L372 440" stroke="#000" stroke-opacity="0.45" stroke-width="1.2" fill="none"/>
<polygon points="372.9,59.6 380,63 387,501 379.7,497.8" fill="url(#edgeShade)"/>
<polygon points="282.5,411.4 386.3,457.2 387,501 283,455.5" fill="url(#botShade)"/>
</g>
<g clip-path="url(#ctb)">
<polygon points="278,14.5 325,9 418,54.5 380,63" fill="#ea0a1a"/>
<path d="M278 14.5L380 63M282.2 14L383.4 62.2M286.5 13.5L386.8 61.5M290.7 13L390.3 60.7M294.7 12.5L393.5 60M298.5 12.1L396.6 59.3M302 11.7L399.4 58.7M305.3 11.3L402.1 58.1M308.4 10.9L404.6 57.5M311.4 10.6L407 57M314.1 10.3L409.2 56.5M316.7 10L411.3 56M319.1 9.7L413.2 55.6M321.3 9.4L415 55.2M323.4 9.2L416.7 54.8M325 9L418 54.5M278 14.5L325 9M281.8 16.3L328.5 10.7M285.6 18.1L332 12.4M289.4 19.9L335.4 14.1M293.2 21.8L338.9 15.8M297.1 23.6L342.4 17.5M300.9 25.4L345.9 19.2M304.7 27.2L349.3 20.9M308.5 29L352.8 22.6M312.3 30.8L356.3 24.3M316.1 32.6L359.8 26M319.9 34.4L363.2 27.7M323.7 36.3L366.7 29.4M327.6 38.1L370.2 31.1M331.4 39.9L373.7 32.8M335.2 41.7L377.1 34.5M339 43.5L380.6 36.2M342.8 45.3L384.1 37.9M346.4 47L387.4 39.5M349.8 48.7L390.5 41M353.1 50.2L393.4 42.5M356.1 51.6L396.2 43.8M359 53L398.8 45.1M361.7 54.3L401.3 46.3M364.2 55.5L403.6 47.5M366.7 56.7L405.8 48.6M369 57.7L407.9 49.6M371.1 58.8L409.9 50.5M373.1 59.7L411.8 51.4M375.1 60.7L413.5 52.3M376.9 61.5L415.2 53.1M378.6 62.3L416.7 53.9M380 63L418 54.5" stroke="#000" stroke-opacity="0.42" stroke-width="0.85" fill="none"/>
<polygon points="278,14.5 325,9 418,54.5 380,63" fill="url(#topShade)" fill-opacity="0.5"/>
<polygon points="325,9 418,54.5 414.2,55.4 321.2,9.4" fill="#0c1800" fill-opacity="0.25"/>
</g>
<g clip-path="url(#crb)">
<polygon points="380,63 418,54.5 420.5,398.5 424.6,397.8 427,494 387,501" fill="#1c14c8"/>
<polygon points="379.8,50 429.3,38.9 429.4,55 380,66" fill="#d09c14"/>
<polygon points="380,66 429.4,55 429.4,59.5 380.1,70.5" fill="#30b428"/>
<polygon points="380.1,70.5 429.4,59.5 429.5,66 380.2,77" fill="#28b0c8"/>
<polygon points="380.2,77 429.5,66 429.5,75.1 380.4,86" fill="#1470d8"/>
<polygon points="380.4,86 429.5,75.1 429.5,83.1 380.5,94" fill="#1044cc"/>
<polygon points="380.5,94 429.5,83.1 429.6,93.1 380.7,104" fill="#1028c4"/>
<polygon points="380.7,104 429.6,93.1 429.9,150.4 381.6,161" fill="#1014bc"/>
<polygon points="381.6,161 429.9,150.4 431.5,511 387.3,520" fill="#1408b4"/>
<path d="M379.8 50L380.5 94M383.6 49.1L384.3 93.2M387.4 48.3L388 92.3M391.2 47.4L391.8 91.5M395 46.6L395.6 90.6M398.8 45.7L399.4 89.8M402.7 44.9L403.1 89M406.5 44L406.9 88.1M410.3 43.2L410.7 87.3M414.1 42.3L414.5 86.4M417.9 41.5L418.2 85.6M421.7 40.6L422 84.8M425.5 39.7L425.8 83.9M429.3 38.9L429.5 83.1M380 63L429.4 52M380 66L429.4 54.9M380.1 69L429.4 57.9M380.1 71.9L429.4 60.9M380.2 74.9L429.5 63.9M380.2 77.9L429.5 66.9M380.3 80.9L429.5 69.9M380.3 83.9L429.5 73M380.4 86.9L429.5 76M380.4 89.9L429.5 79M380.5 92.9L429.5 82" stroke="#70d0e8" stroke-opacity="0.45" stroke-width="0.75" fill="none"/>
<path d="M380.5 94L381.6 161M384.3 93.2L385.3 160.2M388 92.3L389 159.4M391.8 91.5L392.7 158.6M395.6 90.6L396.4 157.7M399.4 89.8L400.1 156.9M403.1 89L403.9 156.1M406.9 88.1L407.6 155.3M410.7 87.3L411.3 154.5M414.5 86.4L415 153.7M418.2 85.6L418.7 152.8M422 84.8L422.4 152M425.8 83.9L426.1 151.2M429.5 83.1L429.9 150.4M380.5 96L429.6 85.1M380.6 99L429.6 88.1M380.6 102L429.6 91.1M380.7 105.1L429.6 94.2M380.7 108.1L429.6 97.2M380.8 111.1L429.6 100.3M380.8 114.2L429.6 103.4M380.9 117.2L429.7 106.4M380.9 120.3L429.7 109.5M381 123.4L429.7 112.6M381 126.4L429.7 115.7M381.1 129.5L429.7 118.7M381.1 132.6L429.7 121.8M381.2 135.7L429.7 124.9M381.2 138.8L429.8 128M381.3 141.8L429.8 131.1M381.3 144.9L429.8 134.3M381.4 148L429.8 137.4M381.4 151.2L429.8 140.5M381.5 154.3L429.8 143.6M381.5 157.4L429.8 146.8M381.6 160.5L429.9 149.9" stroke="#40a0b0" stroke-opacity="0.5" stroke-width="0.75" fill="none"/>
<path d="M381.6 161L387 501M385.3 160.2L390.4 500.3M389 159.4L393.8 499.6M392.7 158.6L397.3 498.9M396.4 157.7L400.7 498.2M400.1 156.9L404.1 497.5M403.9 156.1L407.5 496.8M407.6 155.3L410.9 496.1M411.3 154.5L414.4 495.4M415 153.7L417.8 494.7M418.7 152.8L421.2 494M422.4 152L424.6 493.3M426.1 151.2L428 492.6M429.9 150.4L431.5 491.9M381.6 163.6L429.9 153M381.7 166.8L429.9 156.2M381.7 169.9L429.9 159.3M381.8 173L429.9 162.5M381.8 176.2L429.9 165.6M381.9 179.3L429.9 168.8M381.9 182.5L430 172M382 185.7L430 175.2M382 188.8L430 178.3M382.1 192L430 181.5M382.1 195.2L430 184.7M382.2 198.4L430 187.9M382.2 201.5L430.1 191.1M382.3 204.7L430.1 194.3M382.3 207.9L430.1 197.5M382.4 211.1L430.1 200.7M382.4 214.3L430.1 204M382.5 217.6L430.1 207.2M382.5 220.8L430.1 210.4M382.6 224L430.2 213.7M382.6 227.2L430.2 216.9M382.7 230.5L430.2 220.2M382.7 233.7L430.2 223.4M382.8 236.9L430.2 226.7M382.8 240.2L430.2 229.9M382.9 243.4L430.2 233.2M382.9 246.7L430.3 236.5M383 250L430.3 239.7M383 253.2L430.3 243M383.1 256.5L430.3 246.3M383.1 259.8L430.3 249.6M383.2 263.1L430.3 252.9M383.3 266.4L430.4 256.2M383.3 269.7L430.4 259.5M383.4 273L430.4 262.8M383.4 276.3L430.4 266.2M383.5 279.6L430.4 269.5M383.5 282.9L430.4 272.8M383.6 286.2L430.4 276.2M383.6 289.5L430.5 279.5M383.7 292.9L430.5 282.8M383.7 296.2L430.5 286.2M383.8 299.5L430.5 289.6M383.8 302.9L430.5 292.9M383.9 306.2L430.5 296.3M383.9 309.6L430.6 299.7M384 313L430.6 303M384 316.3L430.6 306.4M384.1 319.7L430.6 309.8M384.2 323.1L430.6 313.2M384.2 326.5L430.6 316.6M384.3 329.9L430.7 320M384.3 333.3L430.7 323.4M384.4 336.7L430.7 326.8M384.4 340.1L430.7 330.3M384.5 343.5L430.7 333.7M384.5 346.9L430.7 337.1M384.6 350.3L430.8 340.5M384.6 353.7L430.8 344M384.7 357.2L430.8 347.4M384.8 360.6L430.8 350.9M384.8 364.1L430.8 354.4M384.9 367.5L430.8 357.8M384.9 371L430.8 361.3M385 374.4L430.9 364.8M385 377.9L430.9 368.2M385.1 381.4L430.9 371.7M385.1 384.8L430.9 375.2M385.2 388.3L430.9 378.7M385.3 391.8L430.9 382.2M385.3 395.3L431 385.7M385.4 398.8L431 389.3M385.4 402.3L431 392.8M385.5 405.8L431 396.3M385.5 409.3L431 399.8M385.6 412.9L431 403.4M385.6 416.4L431.1 406.9M385.7 419.9L431.1 410.5M385.8 423.5L431.1 414M385.8 427L431.1 417.6M385.9 430.5L431.1 421.1M385.9 434.1L431.1 424.7M386 437.7L431.2 428.3M386 441.2L431.2 431.9M386.1 444.8L431.2 435.5M386.2 448.4L431.2 439M386.2 452L431.2 442.6M386.3 455.6L431.2 446.3M386.3 459.1L431.3 449.9M386.4 462.7L431.3 453.5M386.4 466.4L431.3 457.1M386.5 470L431.3 460.7M386.6 473.6L431.3 464.4M386.6 477.2L431.3 468M386.7 480.8L431.4 471.6M386.7 484.5L431.4 475.3M386.8 488.1L431.4 479M386.9 491.8L431.4 482.6M386.9 495.4L431.4 486.3M387 499.1L431.5 490M387 501L431.5 491.9" stroke="#c8c8ec" stroke-opacity="0.62" stroke-width="0.65" fill="none"/>
<polygon points="381.6,161 429.9,150.4 429.9,155.9 381.7,166.5" fill="#d868c8" fill-opacity="0.3"/>
<path d="M381.6 161.5L429.9 150.9M381.6 166L429.9 155.4" stroke="#f478cc" stroke-width="1" stroke-opacity="0.9" fill="none"/>
<path d="M380 63L387 501" stroke="#000" stroke-opacity="0.55" stroke-width="1.6" fill="none"/>
<path d="M385 405.3L425 397.8" stroke="#000" stroke-opacity="0.75" stroke-width="1.3" fill="none"/>
</g>
<path d="M419.8 56L420.5 112" stroke="#a0e4f0" stroke-width="2.2" stroke-opacity="0.45" fill="none"/>
<path d="M420.5 112L421.1 150" stroke="#38b080" stroke-width="2.4" stroke-opacity="0.6" fill="none"/>
<path d="M421.1 150L421.2 155" stroke="#f090c8" stroke-width="2.6" stroke-opacity="0.7" fill="none"/>
<path d="M421.8 157L423.6 397" stroke="#d4d4d4" stroke-width="2.6" stroke-opacity="0.6" fill="none"/>
</g>
<rect x="238" y="40.90" width="11.9" height="19.30" fill="#ff0000"/>
<rect x="238" y="59.90" width="11.9" height="19.30" fill="#ff7800"/>
<rect x="238" y="78.90" width="11.9" height="19.30" fill="#ffe000"/>
<rect x="238" y="97.90" width="11.9" height="19.30" fill="#80ff00"/>
<rect x="238" y="116.90" width="11.9" height="19.30" fill="#20ff00"/>
<rect x="238" y="135.90" width="11.9" height="19.30" fill="#00ff00"/>
<rect x="238" y="154.90" width="11.9" height="19.30" fill="#00ff80"/>
<rect x="238" y="173.90" width="11.9" height="19.30" fill="#00dcff"/>
<rect x="238" y="192.90" width="11.9" height="19.30" fill="#1482ff"/>
<rect x="238" y="211.90" width="11.9" height="19.00" fill="#0000ff"/>
<text x="172.3" y="46.00" style="font-size:10.20px" class="lb">6.4<tspan style="font-size:8.80px" dx="1.4" dy="-0.8">×</tspan><tspan dx="1.5" dy="0.8">10</tspan><tspan style="font-size:7.50px" dx="0.6" dy="-3.5">+02</tspan></text>
<rect x="233.2" y="42.55" width="5.1" height="1.1" fill="#2a2a2a"/>
<text x="172.3" y="65.00" style="font-size:10.20px" class="lb">5.8<tspan style="font-size:8.80px" dx="1.4" dy="-0.8">×</tspan><tspan dx="1.5" dy="0.8">10</tspan><tspan style="font-size:7.50px" dx="0.6" dy="-3.5">+02</tspan></text>
<rect x="233.2" y="61.55" width="5.1" height="1.1" fill="#2a2a2a"/>
<text x="172.3" y="84.00" style="font-size:10.20px" class="lb">5.2<tspan style="font-size:8.80px" dx="1.4" dy="-0.8">×</tspan><tspan dx="1.5" dy="0.8">10</tspan><tspan style="font-size:7.50px" dx="0.6" dy="-3.5">+02</tspan></text>
<rect x="233.2" y="80.55" width="5.1" height="1.1" fill="#2a2a2a"/>
<text x="172.3" y="103.00" style="font-size:10.20px" class="lb">4.6<tspan style="font-size:8.80px" dx="1.4" dy="-0.8">×</tspan><tspan dx="1.5" dy="0.8">10</tspan><tspan style="font-size:7.50px" dx="0.6" dy="-3.5">+02</tspan></text>
<rect x="233.2" y="99.55" width="5.1" height="1.1" fill="#2a2a2a"/>
<text x="172.3" y="122.00" style="font-size:10.20px" class="lb">3.9<tspan style="font-size:8.80px" dx="1.4" dy="-0.8">×</tspan><tspan dx="1.5" dy="0.8">10</tspan><tspan style="font-size:7.50px" dx="0.6" dy="-3.5">+02</tspan></text>
<rect x="233.2" y="118.55" width="5.1" height="1.1" fill="#2a2a2a"/>
<text x="172.3" y="141.00" style="font-size:10.20px" class="lb">3.3<tspan style="font-size:8.80px" dx="1.4" dy="-0.8">×</tspan><tspan dx="1.5" dy="0.8">10</tspan><tspan style="font-size:7.50px" dx="0.6" dy="-3.5">+02</tspan></text>
<rect x="233.2" y="137.55" width="5.1" height="1.1" fill="#2a2a2a"/>
<text x="172.3" y="160.00" style="font-size:10.20px" class="lb">2.7<tspan style="font-size:8.80px" dx="1.4" dy="-0.8">×</tspan><tspan dx="1.5" dy="0.8">10</tspan><tspan style="font-size:7.50px" dx="0.6" dy="-3.5">+02</tspan></text>
<rect x="233.2" y="156.55" width="5.1" height="1.1" fill="#2a2a2a"/>
<text x="172.3" y="179.00" style="font-size:10.20px" class="lb">2.1<tspan style="font-size:8.80px" dx="1.4" dy="-0.8">×</tspan><tspan dx="1.5" dy="0.8">10</tspan><tspan style="font-size:7.50px" dx="0.6" dy="-3.5">+02</tspan></text>
<rect x="233.2" y="175.55" width="5.1" height="1.1" fill="#2a2a2a"/>
<text x="172.3" y="198.00" style="font-size:10.20px" class="lb">1.5<tspan style="font-size:8.80px" dx="1.4" dy="-0.8">×</tspan><tspan dx="1.5" dy="0.8">10</tspan><tspan style="font-size:7.50px" dx="0.6" dy="-3.5">+02</tspan></text>
<rect x="233.2" y="194.55" width="5.1" height="1.1" fill="#2a2a2a"/>
<text x="172.3" y="217.00" style="font-size:10.20px" class="lb">8.7<tspan style="font-size:8.80px" dx="1.4" dy="-0.8">×</tspan><tspan dx="1.5" dy="0.8">10</tspan><tspan style="font-size:7.50px" dx="0.6" dy="-3.5">+01</tspan></text>
<rect x="233.2" y="213.55" width="5.1" height="1.1" fill="#2a2a2a"/>
<text x="172.3" y="236.00" style="font-size:10.20px" class="lb">2.5<tspan style="font-size:8.80px" dx="1.4" dy="-0.8">×</tspan><tspan dx="1.5" dy="0.8">10</tspan><tspan style="font-size:7.50px" dx="0.6" dy="-3.5">+01</tspan></text>
<rect x="233.2" y="232.55" width="5.1" height="1.1" fill="#2a2a2a"/>
<text x="136.6" y="25.9" class="tt" style="font-size:10.70px" textLength="104" lengthAdjust="spacingAndGlyphs">Temperature [°C]</text>
<rect x="519.9" y="37.90" width="12.2" height="19.55" fill="#ff0000"/>
<rect x="519.9" y="57.15" width="12.2" height="19.55" fill="#ff7800"/>
<rect x="519.9" y="76.40" width="12.2" height="19.55" fill="#ffe000"/>
<rect x="519.9" y="95.65" width="12.2" height="19.55" fill="#80ff00"/>
<rect x="519.9" y="114.90" width="12.2" height="19.55" fill="#20ff00"/>
<rect x="519.9" y="134.15" width="12.2" height="19.55" fill="#00ff00"/>
<rect x="519.9" y="153.40" width="12.2" height="19.55" fill="#00ff80"/>
<rect x="519.9" y="172.65" width="12.2" height="19.55" fill="#00dcff"/>
<rect x="519.9" y="191.90" width="12.2" height="19.55" fill="#1482ff"/>
<rect x="519.9" y="211.15" width="12.2" height="19.25" fill="#0000ff"/>
<text x="451.2" y="43.08" style="font-size:10.36px" class="lb">6.4<tspan style="font-size:8.94px" dx="1.4" dy="-0.8">×</tspan><tspan dx="1.5" dy="0.8">10</tspan><tspan style="font-size:7.62px" dx="0.6" dy="-3.6">+02</tspan></text>
<rect x="514.3" y="39.58" width="5.9" height="1.1" fill="#2a2a2a"/>
<text x="451.2" y="62.33" style="font-size:10.36px" class="lb">5.8<tspan style="font-size:8.94px" dx="1.4" dy="-0.8">×</tspan><tspan dx="1.5" dy="0.8">10</tspan><tspan style="font-size:7.62px" dx="0.6" dy="-3.6">+02</tspan></text>
<rect x="514.3" y="58.83" width="5.9" height="1.1" fill="#2a2a2a"/>
<text x="451.2" y="81.58" style="font-size:10.36px" class="lb">5.2<tspan style="font-size:8.94px" dx="1.4" dy="-0.8">×</tspan><tspan dx="1.5" dy="0.8">10</tspan><tspan style="font-size:7.62px" dx="0.6" dy="-3.6">+02</tspan></text>
<rect x="514.3" y="78.08" width="5.9" height="1.1" fill="#2a2a2a"/>
<text x="451.2" y="100.83" style="font-size:10.36px" class="lb">4.6<tspan style="font-size:8.94px" dx="1.4" dy="-0.8">×</tspan><tspan dx="1.5" dy="0.8">10</tspan><tspan style="font-size:7.62px" dx="0.6" dy="-3.6">+02</tspan></text>
<rect x="514.3" y="97.33" width="5.9" height="1.1" fill="#2a2a2a"/>
<text x="451.2" y="120.08" style="font-size:10.36px" class="lb">3.9<tspan style="font-size:8.94px" dx="1.4" dy="-0.8">×</tspan><tspan dx="1.5" dy="0.8">10</tspan><tspan style="font-size:7.62px" dx="0.6" dy="-3.6">+02</tspan></text>
<rect x="514.3" y="116.58" width="5.9" height="1.1" fill="#2a2a2a"/>
<text x="451.2" y="139.33" style="font-size:10.36px" class="lb">3.3<tspan style="font-size:8.94px" dx="1.4" dy="-0.8">×</tspan><tspan dx="1.5" dy="0.8">10</tspan><tspan style="font-size:7.62px" dx="0.6" dy="-3.6">+02</tspan></text>
<rect x="514.3" y="135.83" width="5.9" height="1.1" fill="#2a2a2a"/>
<text x="451.2" y="158.58" style="font-size:10.36px" class="lb">2.7<tspan style="font-size:8.94px" dx="1.4" dy="-0.8">×</tspan><tspan dx="1.5" dy="0.8">10</tspan><tspan style="font-size:7.62px" dx="0.6" dy="-3.6">+02</tspan></text>
<rect x="514.3" y="155.08" width="5.9" height="1.1" fill="#2a2a2a"/>
<text x="451.2" y="177.83" style="font-size:10.36px" class="lb">2.1<tspan style="font-size:8.94px" dx="1.4" dy="-0.8">×</tspan><tspan dx="1.5" dy="0.8">10</tspan><tspan style="font-size:7.62px" dx="0.6" dy="-3.6">+02</tspan></text>
<rect x="514.3" y="174.33" width="5.9" height="1.1" fill="#2a2a2a"/>
<text x="451.2" y="197.08" style="font-size:10.36px" class="lb">1.5<tspan style="font-size:8.94px" dx="1.4" dy="-0.8">×</tspan><tspan dx="1.5" dy="0.8">10</tspan><tspan style="font-size:7.62px" dx="0.6" dy="-3.6">+02</tspan></text>
<rect x="514.3" y="193.58" width="5.9" height="1.1" fill="#2a2a2a"/>
<text x="451.2" y="216.33" style="font-size:10.36px" class="lb">8.7<tspan style="font-size:8.94px" dx="1.4" dy="-0.8">×</tspan><tspan dx="1.5" dy="0.8">10</tspan><tspan style="font-size:7.62px" dx="0.6" dy="-3.6">+01</tspan></text>
<rect x="514.3" y="212.83" width="5.9" height="1.1" fill="#2a2a2a"/>
<text x="451.2" y="235.58" style="font-size:10.36px" class="lb">2.5<tspan style="font-size:8.94px" dx="1.4" dy="-0.8">×</tspan><tspan dx="1.5" dy="0.8">10</tspan><tspan style="font-size:7.62px" dx="0.6" dy="-3.6">+01</tspan></text>
<rect x="514.3" y="232.08" width="5.9" height="1.1" fill="#2a2a2a"/>
<text x="422.6" y="22.5" class="tt" style="font-size:10.87px" textLength="105" lengthAdjust="spacingAndGlyphs">Temperature [°C]</text>
<text x="130.4" y="536.9" class="cap">(a)</text>
<text x="404.8" y="536.9" class="cap">(b)</text>
</svg>
</body></html>
